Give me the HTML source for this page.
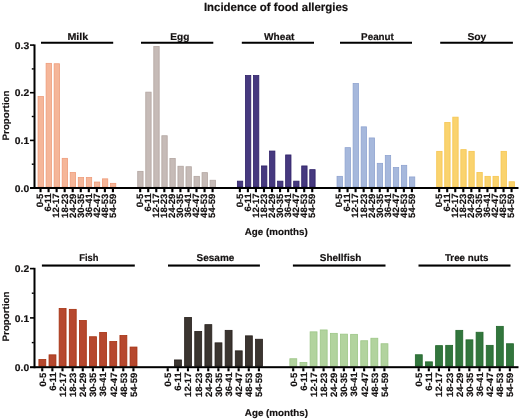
<!DOCTYPE html><html><head><meta charset="utf-8"><title>Incidence of food allergies</title><style>html,body{margin:0;padding:0;background:#fff;}svg{display:block;}text{font-family:'Liberation Sans', Arial, Helvetica, sans-serif;font-weight:bold;fill:#141111;stroke:#141111;stroke-width:0.18px;}</style></head><body>
<svg width="520" height="420" viewBox="0 0 520 420" text-rendering="geometricPrecision">
<rect width="520" height="420" fill="#fff"/>
<text transform="translate(203.908,10.5) scale(0.9788,1)" font-size="11.7">Incidence of food allergies</text>
<rect x="38.07" y="96.55" width="5.35" height="90.45" fill="#F5B699" stroke="#EE9C7A" stroke-width="0.8"/>
<rect x="46.11" y="63.35" width="5.35" height="123.65" fill="#F5B699" stroke="#EE9C7A" stroke-width="0.8"/>
<rect x="54.15" y="63.75" width="5.35" height="123.25" fill="#F5B699" stroke="#EE9C7A" stroke-width="0.8"/>
<rect x="62.19" y="158.35" width="5.35" height="28.65" fill="#F5B699" stroke="#EE9C7A" stroke-width="0.8"/>
<rect x="70.23" y="172.55" width="5.35" height="14.45" fill="#F5B699" stroke="#EE9C7A" stroke-width="0.8"/>
<rect x="78.28" y="177.55" width="5.35" height="9.45" fill="#F5B699" stroke="#EE9C7A" stroke-width="0.8"/>
<rect x="86.32" y="177.55" width="5.35" height="9.45" fill="#F5B699" stroke="#EE9C7A" stroke-width="0.8"/>
<rect x="94.36" y="182.05" width="5.35" height="4.95" fill="#F5B699" stroke="#EE9C7A" stroke-width="0.8"/>
<rect x="102.40" y="178.85" width="5.35" height="8.15" fill="#F5B699" stroke="#EE9C7A" stroke-width="0.8"/>
<rect x="110.44" y="183.35" width="5.35" height="3.65" fill="#F5B699" stroke="#EE9C7A" stroke-width="0.8"/>
<rect x="137.72" y="171.35" width="5.35" height="15.65" fill="#C6BBB7" stroke="#B2A5A0" stroke-width="0.8"/>
<rect x="145.77" y="92.15" width="5.35" height="94.85" fill="#C6BBB7" stroke="#B2A5A0" stroke-width="0.8"/>
<rect x="153.81" y="46.45" width="5.35" height="140.55" fill="#C6BBB7" stroke="#B2A5A0" stroke-width="0.8"/>
<rect x="161.85" y="135.75" width="5.35" height="51.25" fill="#C6BBB7" stroke="#B2A5A0" stroke-width="0.8"/>
<rect x="169.89" y="158.45" width="5.35" height="28.55" fill="#C6BBB7" stroke="#B2A5A0" stroke-width="0.8"/>
<rect x="177.94" y="166.25" width="5.35" height="20.75" fill="#C6BBB7" stroke="#B2A5A0" stroke-width="0.8"/>
<rect x="185.98" y="166.75" width="5.35" height="20.25" fill="#C6BBB7" stroke="#B2A5A0" stroke-width="0.8"/>
<rect x="194.02" y="176.35" width="5.35" height="10.65" fill="#C6BBB7" stroke="#B2A5A0" stroke-width="0.8"/>
<rect x="202.06" y="172.65" width="5.35" height="14.35" fill="#C6BBB7" stroke="#B2A5A0" stroke-width="0.8"/>
<rect x="210.10" y="180.25" width="5.35" height="6.75" fill="#C6BBB7" stroke="#B2A5A0" stroke-width="0.8"/>
<rect x="237.38" y="181.15" width="5.35" height="5.85" fill="#46397F" stroke="#2F2168" stroke-width="0.8"/>
<rect x="245.43" y="75.55" width="5.35" height="111.45" fill="#46397F" stroke="#2F2168" stroke-width="0.8"/>
<rect x="253.47" y="75.55" width="5.35" height="111.45" fill="#46397F" stroke="#2F2168" stroke-width="0.8"/>
<rect x="261.51" y="165.95" width="5.35" height="21.05" fill="#46397F" stroke="#2F2168" stroke-width="0.8"/>
<rect x="269.55" y="151.05" width="5.35" height="35.95" fill="#46397F" stroke="#2F2168" stroke-width="0.8"/>
<rect x="277.59" y="181.15" width="5.35" height="5.85" fill="#46397F" stroke="#2F2168" stroke-width="0.8"/>
<rect x="285.64" y="154.95" width="5.35" height="32.05" fill="#46397F" stroke="#2F2168" stroke-width="0.8"/>
<rect x="293.68" y="181.15" width="5.35" height="5.85" fill="#46397F" stroke="#2F2168" stroke-width="0.8"/>
<rect x="301.72" y="165.95" width="5.35" height="21.05" fill="#46397F" stroke="#2F2168" stroke-width="0.8"/>
<rect x="309.76" y="169.65" width="5.35" height="17.35" fill="#46397F" stroke="#2F2168" stroke-width="0.8"/>
<rect x="337.05" y="176.35" width="5.35" height="10.65" fill="#A6B8DC" stroke="#8FA3D0" stroke-width="0.8"/>
<rect x="345.09" y="147.65" width="5.35" height="39.35" fill="#A6B8DC" stroke="#8FA3D0" stroke-width="0.8"/>
<rect x="353.13" y="83.55" width="5.35" height="103.45" fill="#A6B8DC" stroke="#8FA3D0" stroke-width="0.8"/>
<rect x="361.17" y="126.85" width="5.35" height="60.15" fill="#A6B8DC" stroke="#8FA3D0" stroke-width="0.8"/>
<rect x="369.21" y="137.95" width="5.35" height="49.05" fill="#A6B8DC" stroke="#8FA3D0" stroke-width="0.8"/>
<rect x="377.25" y="163.35" width="5.35" height="23.65" fill="#A6B8DC" stroke="#8FA3D0" stroke-width="0.8"/>
<rect x="385.30" y="155.55" width="5.35" height="31.45" fill="#A6B8DC" stroke="#8FA3D0" stroke-width="0.8"/>
<rect x="393.34" y="167.55" width="5.35" height="19.45" fill="#A6B8DC" stroke="#8FA3D0" stroke-width="0.8"/>
<rect x="401.38" y="165.35" width="5.35" height="21.65" fill="#A6B8DC" stroke="#8FA3D0" stroke-width="0.8"/>
<rect x="409.42" y="176.95" width="5.35" height="10.05" fill="#A6B8DC" stroke="#8FA3D0" stroke-width="0.8"/>
<rect x="436.70" y="151.35" width="5.35" height="35.65" fill="#FAD36E" stroke="#F5C550" stroke-width="0.8"/>
<rect x="444.75" y="122.55" width="5.35" height="64.45" fill="#FAD36E" stroke="#F5C550" stroke-width="0.8"/>
<rect x="452.79" y="117.15" width="5.35" height="69.85" fill="#FAD36E" stroke="#F5C550" stroke-width="0.8"/>
<rect x="460.83" y="149.65" width="5.35" height="37.35" fill="#FAD36E" stroke="#F5C550" stroke-width="0.8"/>
<rect x="468.87" y="151.35" width="5.35" height="35.65" fill="#FAD36E" stroke="#F5C550" stroke-width="0.8"/>
<rect x="476.91" y="172.55" width="5.35" height="14.45" fill="#FAD36E" stroke="#F5C550" stroke-width="0.8"/>
<rect x="484.96" y="176.35" width="5.35" height="10.65" fill="#FAD36E" stroke="#F5C550" stroke-width="0.8"/>
<rect x="493.00" y="176.35" width="5.35" height="10.65" fill="#FAD36E" stroke="#F5C550" stroke-width="0.8"/>
<rect x="501.04" y="151.35" width="5.35" height="35.65" fill="#FAD36E" stroke="#F5C550" stroke-width="0.8"/>
<rect x="509.08" y="181.75" width="5.35" height="5.25" fill="#FAD36E" stroke="#F5C550" stroke-width="0.8"/>
<rect x="30" y="187.0" width="488.5" height="2.0" fill="#000"/>
<rect x="39.49" y="189" width="2.1" height="3.20" fill="#000"/>
<text transform="translate(43.40,193.61) rotate(-90) scale(1.034,1)" font-size="9.2" text-anchor="end">0-5</text>
<rect x="47.53" y="189" width="2.1" height="3.20" fill="#000"/>
<text transform="translate(51.44,193.12) rotate(-90) scale(1.034,1)" font-size="9.2" text-anchor="end">6-11</text>
<rect x="55.57" y="189" width="2.1" height="3.20" fill="#000"/>
<text transform="translate(59.48,193.48) rotate(-90) scale(1.034,1)" font-size="9.2" text-anchor="end">12-17</text>
<rect x="63.62" y="189" width="2.1" height="3.20" fill="#000"/>
<text transform="translate(67.53,193.59) rotate(-90) scale(1.034,1)" font-size="9.2" text-anchor="end">18-23</text>
<rect x="71.66" y="189" width="2.1" height="3.20" fill="#000"/>
<text transform="translate(75.57,193.59) rotate(-90) scale(1.034,1)" font-size="9.2" text-anchor="end">24-29</text>
<rect x="79.70" y="189" width="2.1" height="3.20" fill="#000"/>
<text transform="translate(83.61,193.61) rotate(-90) scale(1.034,1)" font-size="9.2" text-anchor="end">30-35</text>
<rect x="87.74" y="189" width="2.1" height="3.20" fill="#000"/>
<text transform="translate(91.65,193.12) rotate(-90) scale(1.034,1)" font-size="9.2" text-anchor="end">36-41</text>
<rect x="95.78" y="189" width="2.1" height="3.20" fill="#000"/>
<text transform="translate(99.69,193.48) rotate(-90) scale(1.034,1)" font-size="9.2" text-anchor="end">42-47</text>
<rect x="103.83" y="189" width="2.1" height="3.20" fill="#000"/>
<text transform="translate(107.74,193.59) rotate(-90) scale(1.034,1)" font-size="9.2" text-anchor="end">48-53</text>
<rect x="111.87" y="189" width="2.1" height="3.20" fill="#000"/>
<text transform="translate(115.78,193.59) rotate(-90) scale(1.034,1)" font-size="9.2" text-anchor="end">54-59</text>
<rect x="139.15" y="189" width="2.1" height="3.20" fill="#000"/>
<text transform="translate(143.06,193.61) rotate(-90) scale(1.034,1)" font-size="9.2" text-anchor="end">0-5</text>
<rect x="147.19" y="189" width="2.1" height="3.20" fill="#000"/>
<text transform="translate(151.10,193.12) rotate(-90) scale(1.034,1)" font-size="9.2" text-anchor="end">6-11</text>
<rect x="155.23" y="189" width="2.1" height="3.20" fill="#000"/>
<text transform="translate(159.14,193.48) rotate(-90) scale(1.034,1)" font-size="9.2" text-anchor="end">12-17</text>
<rect x="163.28" y="189" width="2.1" height="3.20" fill="#000"/>
<text transform="translate(167.19,193.59) rotate(-90) scale(1.034,1)" font-size="9.2" text-anchor="end">18-23</text>
<rect x="171.32" y="189" width="2.1" height="3.20" fill="#000"/>
<text transform="translate(175.23,193.59) rotate(-90) scale(1.034,1)" font-size="9.2" text-anchor="end">24-29</text>
<rect x="179.36" y="189" width="2.1" height="3.20" fill="#000"/>
<text transform="translate(183.27,193.61) rotate(-90) scale(1.034,1)" font-size="9.2" text-anchor="end">30-35</text>
<rect x="187.40" y="189" width="2.1" height="3.20" fill="#000"/>
<text transform="translate(191.31,193.12) rotate(-90) scale(1.034,1)" font-size="9.2" text-anchor="end">36-41</text>
<rect x="195.44" y="189" width="2.1" height="3.20" fill="#000"/>
<text transform="translate(199.35,193.48) rotate(-90) scale(1.034,1)" font-size="9.2" text-anchor="end">42-47</text>
<rect x="203.49" y="189" width="2.1" height="3.20" fill="#000"/>
<text transform="translate(207.40,193.59) rotate(-90) scale(1.034,1)" font-size="9.2" text-anchor="end">48-53</text>
<rect x="211.53" y="189" width="2.1" height="3.20" fill="#000"/>
<text transform="translate(215.44,193.59) rotate(-90) scale(1.034,1)" font-size="9.2" text-anchor="end">54-59</text>
<rect x="238.81" y="189" width="2.1" height="3.20" fill="#000"/>
<text transform="translate(242.72,193.61) rotate(-90) scale(1.034,1)" font-size="9.2" text-anchor="end">0-5</text>
<rect x="246.85" y="189" width="2.1" height="3.20" fill="#000"/>
<text transform="translate(250.76,193.12) rotate(-90) scale(1.034,1)" font-size="9.2" text-anchor="end">6-11</text>
<rect x="254.89" y="189" width="2.1" height="3.20" fill="#000"/>
<text transform="translate(258.80,193.48) rotate(-90) scale(1.034,1)" font-size="9.2" text-anchor="end">12-17</text>
<rect x="262.94" y="189" width="2.1" height="3.20" fill="#000"/>
<text transform="translate(266.85,193.59) rotate(-90) scale(1.034,1)" font-size="9.2" text-anchor="end">18-23</text>
<rect x="270.98" y="189" width="2.1" height="3.20" fill="#000"/>
<text transform="translate(274.89,193.59) rotate(-90) scale(1.034,1)" font-size="9.2" text-anchor="end">24-29</text>
<rect x="279.02" y="189" width="2.1" height="3.20" fill="#000"/>
<text transform="translate(282.93,193.61) rotate(-90) scale(1.034,1)" font-size="9.2" text-anchor="end">30-35</text>
<rect x="287.06" y="189" width="2.1" height="3.20" fill="#000"/>
<text transform="translate(290.97,193.12) rotate(-90) scale(1.034,1)" font-size="9.2" text-anchor="end">36-41</text>
<rect x="295.10" y="189" width="2.1" height="3.20" fill="#000"/>
<text transform="translate(299.01,193.48) rotate(-90) scale(1.034,1)" font-size="9.2" text-anchor="end">42-47</text>
<rect x="303.15" y="189" width="2.1" height="3.20" fill="#000"/>
<text transform="translate(307.06,193.59) rotate(-90) scale(1.034,1)" font-size="9.2" text-anchor="end">48-53</text>
<rect x="311.19" y="189" width="2.1" height="3.20" fill="#000"/>
<text transform="translate(315.10,193.59) rotate(-90) scale(1.034,1)" font-size="9.2" text-anchor="end">54-59</text>
<rect x="338.47" y="189" width="2.1" height="3.20" fill="#000"/>
<text transform="translate(342.38,193.61) rotate(-90) scale(1.034,1)" font-size="9.2" text-anchor="end">0-5</text>
<rect x="346.51" y="189" width="2.1" height="3.20" fill="#000"/>
<text transform="translate(350.42,193.12) rotate(-90) scale(1.034,1)" font-size="9.2" text-anchor="end">6-11</text>
<rect x="354.55" y="189" width="2.1" height="3.20" fill="#000"/>
<text transform="translate(358.46,193.48) rotate(-90) scale(1.034,1)" font-size="9.2" text-anchor="end">12-17</text>
<rect x="362.60" y="189" width="2.1" height="3.20" fill="#000"/>
<text transform="translate(366.51,193.59) rotate(-90) scale(1.034,1)" font-size="9.2" text-anchor="end">18-23</text>
<rect x="370.64" y="189" width="2.1" height="3.20" fill="#000"/>
<text transform="translate(374.55,193.59) rotate(-90) scale(1.034,1)" font-size="9.2" text-anchor="end">24-29</text>
<rect x="378.68" y="189" width="2.1" height="3.20" fill="#000"/>
<text transform="translate(382.59,193.61) rotate(-90) scale(1.034,1)" font-size="9.2" text-anchor="end">30-35</text>
<rect x="386.72" y="189" width="2.1" height="3.20" fill="#000"/>
<text transform="translate(390.63,193.12) rotate(-90) scale(1.034,1)" font-size="9.2" text-anchor="end">36-41</text>
<rect x="394.76" y="189" width="2.1" height="3.20" fill="#000"/>
<text transform="translate(398.67,193.48) rotate(-90) scale(1.034,1)" font-size="9.2" text-anchor="end">42-47</text>
<rect x="402.81" y="189" width="2.1" height="3.20" fill="#000"/>
<text transform="translate(406.72,193.59) rotate(-90) scale(1.034,1)" font-size="9.2" text-anchor="end">48-53</text>
<rect x="410.85" y="189" width="2.1" height="3.20" fill="#000"/>
<text transform="translate(414.76,193.59) rotate(-90) scale(1.034,1)" font-size="9.2" text-anchor="end">54-59</text>
<rect x="438.13" y="189" width="2.1" height="3.20" fill="#000"/>
<text transform="translate(442.04,193.61) rotate(-90) scale(1.034,1)" font-size="9.2" text-anchor="end">0-5</text>
<rect x="446.17" y="189" width="2.1" height="3.20" fill="#000"/>
<text transform="translate(450.08,193.12) rotate(-90) scale(1.034,1)" font-size="9.2" text-anchor="end">6-11</text>
<rect x="454.21" y="189" width="2.1" height="3.20" fill="#000"/>
<text transform="translate(458.12,193.48) rotate(-90) scale(1.034,1)" font-size="9.2" text-anchor="end">12-17</text>
<rect x="462.26" y="189" width="2.1" height="3.20" fill="#000"/>
<text transform="translate(466.17,193.59) rotate(-90) scale(1.034,1)" font-size="9.2" text-anchor="end">18-23</text>
<rect x="470.30" y="189" width="2.1" height="3.20" fill="#000"/>
<text transform="translate(474.21,193.59) rotate(-90) scale(1.034,1)" font-size="9.2" text-anchor="end">24-29</text>
<rect x="478.34" y="189" width="2.1" height="3.20" fill="#000"/>
<text transform="translate(482.25,193.61) rotate(-90) scale(1.034,1)" font-size="9.2" text-anchor="end">30-35</text>
<rect x="486.38" y="189" width="2.1" height="3.20" fill="#000"/>
<text transform="translate(490.29,193.12) rotate(-90) scale(1.034,1)" font-size="9.2" text-anchor="end">36-41</text>
<rect x="494.42" y="189" width="2.1" height="3.20" fill="#000"/>
<text transform="translate(498.33,193.48) rotate(-90) scale(1.034,1)" font-size="9.2" text-anchor="end">42-47</text>
<rect x="502.47" y="189" width="2.1" height="3.20" fill="#000"/>
<text transform="translate(506.38,193.59) rotate(-90) scale(1.034,1)" font-size="9.2" text-anchor="end">48-53</text>
<rect x="510.51" y="189" width="2.1" height="3.20" fill="#000"/>
<text transform="translate(514.42,193.59) rotate(-90) scale(1.034,1)" font-size="9.2" text-anchor="end">54-59</text>
<text transform="translate(67.425,39.5) scale(1.0858,1)" font-size="9.9">Milk</text>
<text transform="translate(170.345,39.7) scale(1.0204,1)" font-size="9.9">Egg</text>
<text transform="translate(264.013,39.7) scale(1.0252,1)" font-size="9.9">Wheat</text>
<text transform="translate(361.113,40.15) scale(0.9956,1)" font-size="9.9">Peanut</text>
<text transform="translate(467.422,39.8) scale(1.0456,1)" font-size="9.9">Soy</text>
<rect x="41" y="41.75" width="72.20" height="2.0" fill="#000"/>
<rect x="141" y="41.75" width="72.30" height="2.0" fill="#000"/>
<rect x="241.8" y="41.75" width="72.20" height="2.0" fill="#000"/>
<rect x="340" y="41.75" width="72.00" height="2.0" fill="#000"/>
<rect x="440.2" y="41.75" width="72.70" height="2.0" fill="#000"/>
<rect x="33.5" y="44.4" width="2" height="144.60" fill="#000"/>
<rect x="30" y="44.30" width="4" height="1.6" fill="#000"/>
<text transform="translate(14.87,48.70) scale(1.05,1)" font-size="9.8">0.3</text>
<rect x="30" y="91.90" width="4" height="1.6" fill="#000"/>
<text transform="translate(14.87,96.20) scale(1.05,1)" font-size="9.8">0.2</text>
<rect x="30" y="139.60" width="4" height="1.6" fill="#000"/>
<text transform="translate(14.87,143.90) scale(1.05,1)" font-size="9.8">0.1</text>
<text transform="translate(14.87,191.60) scale(1.05,1)" font-size="9.8">0.0</text>
<rect x="31.8" y="68.20" width="2" height="1.4" fill="#000"/>
<rect x="31.8" y="115.80" width="2" height="1.4" fill="#000"/>
<rect x="31.8" y="163.50" width="2" height="1.4" fill="#000"/>
<text transform="translate(8.7,140.43) rotate(-90) scale(1.0517,1)" font-size="9.3">Proportion</text>
<text transform="translate(244.817,235.2) scale(1.0081,1)" font-size="9.7">Age (months)</text>
<rect x="38.90" y="359.55" width="6.90" height="6.65" fill="#B6482E" stroke="#A5300F" stroke-width="0.8"/>
<rect x="49.03" y="354.85" width="6.90" height="11.35" fill="#B6482E" stroke="#A5300F" stroke-width="0.8"/>
<rect x="59.16" y="308.55" width="6.90" height="57.65" fill="#B6482E" stroke="#A5300F" stroke-width="0.8"/>
<rect x="69.29" y="309.35" width="6.90" height="56.85" fill="#B6482E" stroke="#A5300F" stroke-width="0.8"/>
<rect x="79.42" y="320.55" width="6.90" height="45.65" fill="#B6482E" stroke="#A5300F" stroke-width="0.8"/>
<rect x="89.55" y="336.75" width="6.90" height="29.45" fill="#B6482E" stroke="#A5300F" stroke-width="0.8"/>
<rect x="99.68" y="332.45" width="6.90" height="33.75" fill="#B6482E" stroke="#A5300F" stroke-width="0.8"/>
<rect x="109.81" y="341.55" width="6.90" height="24.65" fill="#B6482E" stroke="#A5300F" stroke-width="0.8"/>
<rect x="119.94" y="335.55" width="6.90" height="30.65" fill="#B6482E" stroke="#A5300F" stroke-width="0.8"/>
<rect x="130.07" y="347.05" width="6.90" height="19.15" fill="#B6482E" stroke="#A5300F" stroke-width="0.8"/>
<rect x="174.51" y="359.95" width="6.90" height="6.25" fill="#3B3530" stroke="#261F1B" stroke-width="0.8"/>
<rect x="184.64" y="317.45" width="6.90" height="48.75" fill="#3B3530" stroke="#261F1B" stroke-width="0.8"/>
<rect x="194.77" y="331.45" width="6.90" height="34.75" fill="#3B3530" stroke="#261F1B" stroke-width="0.8"/>
<rect x="204.90" y="324.65" width="6.90" height="41.55" fill="#3B3530" stroke="#261F1B" stroke-width="0.8"/>
<rect x="215.03" y="342.85" width="6.90" height="23.35" fill="#3B3530" stroke="#261F1B" stroke-width="0.8"/>
<rect x="225.16" y="330.35" width="6.90" height="35.85" fill="#3B3530" stroke="#261F1B" stroke-width="0.8"/>
<rect x="235.29" y="350.85" width="6.90" height="15.35" fill="#3B3530" stroke="#261F1B" stroke-width="0.8"/>
<rect x="245.42" y="335.85" width="6.90" height="30.35" fill="#3B3530" stroke="#261F1B" stroke-width="0.8"/>
<rect x="255.55" y="339.25" width="6.90" height="26.95" fill="#3B3530" stroke="#261F1B" stroke-width="0.8"/>
<rect x="289.86" y="358.75" width="6.90" height="7.45" fill="#B2D39E" stroke="#9CC686" stroke-width="0.8"/>
<rect x="299.99" y="362.55" width="6.90" height="3.65" fill="#B2D39E" stroke="#9CC686" stroke-width="0.8"/>
<rect x="310.12" y="331.85" width="6.90" height="34.35" fill="#B2D39E" stroke="#9CC686" stroke-width="0.8"/>
<rect x="320.25" y="329.95" width="6.90" height="36.25" fill="#B2D39E" stroke="#9CC686" stroke-width="0.8"/>
<rect x="330.38" y="333.35" width="6.90" height="32.85" fill="#B2D39E" stroke="#9CC686" stroke-width="0.8"/>
<rect x="340.51" y="334.15" width="6.90" height="32.05" fill="#B2D39E" stroke="#9CC686" stroke-width="0.8"/>
<rect x="350.64" y="334.35" width="6.90" height="31.85" fill="#B2D39E" stroke="#9CC686" stroke-width="0.8"/>
<rect x="360.77" y="340.75" width="6.90" height="25.45" fill="#B2D39E" stroke="#9CC686" stroke-width="0.8"/>
<rect x="370.90" y="338.25" width="6.90" height="27.95" fill="#B2D39E" stroke="#9CC686" stroke-width="0.8"/>
<rect x="381.03" y="343.75" width="6.90" height="22.45" fill="#B2D39E" stroke="#9CC686" stroke-width="0.8"/>
<rect x="415.34" y="354.75" width="6.90" height="11.45" fill="#32763D" stroke="#22672B" stroke-width="0.8"/>
<rect x="425.47" y="361.85" width="6.90" height="4.35" fill="#32763D" stroke="#22672B" stroke-width="0.8"/>
<rect x="435.60" y="345.65" width="6.90" height="20.55" fill="#32763D" stroke="#22672B" stroke-width="0.8"/>
<rect x="445.73" y="345.35" width="6.90" height="20.85" fill="#32763D" stroke="#22672B" stroke-width="0.8"/>
<rect x="455.86" y="330.35" width="6.90" height="35.85" fill="#32763D" stroke="#22672B" stroke-width="0.8"/>
<rect x="465.99" y="339.85" width="6.90" height="26.35" fill="#32763D" stroke="#22672B" stroke-width="0.8"/>
<rect x="476.12" y="332.25" width="6.90" height="33.95" fill="#32763D" stroke="#22672B" stroke-width="0.8"/>
<rect x="486.25" y="345.35" width="6.90" height="20.85" fill="#32763D" stroke="#22672B" stroke-width="0.8"/>
<rect x="496.38" y="326.35" width="6.90" height="39.85" fill="#32763D" stroke="#22672B" stroke-width="0.8"/>
<rect x="506.51" y="343.75" width="6.90" height="22.45" fill="#32763D" stroke="#22672B" stroke-width="0.8"/>
<rect x="30" y="366.2" width="488.5" height="2.0" fill="#000"/>
<rect x="41.20" y="368.2" width="2.1" height="3.10" fill="#000"/>
<text transform="translate(45.71,372.71) rotate(-90) scale(1.034,1)" font-size="9.2" text-anchor="end">0-5</text>
<rect x="51.33" y="368.2" width="2.1" height="3.10" fill="#000"/>
<text transform="translate(55.84,372.22) rotate(-90) scale(1.034,1)" font-size="9.2" text-anchor="end">6-11</text>
<rect x="61.46" y="368.2" width="2.1" height="3.10" fill="#000"/>
<text transform="translate(65.97,372.58) rotate(-90) scale(1.034,1)" font-size="9.2" text-anchor="end">12-17</text>
<rect x="71.59" y="368.2" width="2.1" height="3.10" fill="#000"/>
<text transform="translate(76.10,372.69) rotate(-90) scale(1.034,1)" font-size="9.2" text-anchor="end">18-23</text>
<rect x="81.72" y="368.2" width="2.1" height="3.10" fill="#000"/>
<text transform="translate(86.23,372.69) rotate(-90) scale(1.034,1)" font-size="9.2" text-anchor="end">24-29</text>
<rect x="91.85" y="368.2" width="2.1" height="3.10" fill="#000"/>
<text transform="translate(96.36,372.71) rotate(-90) scale(1.034,1)" font-size="9.2" text-anchor="end">30-35</text>
<rect x="101.98" y="368.2" width="2.1" height="3.10" fill="#000"/>
<text transform="translate(106.49,372.22) rotate(-90) scale(1.034,1)" font-size="9.2" text-anchor="end">36-41</text>
<rect x="112.11" y="368.2" width="2.1" height="3.10" fill="#000"/>
<text transform="translate(116.62,372.58) rotate(-90) scale(1.034,1)" font-size="9.2" text-anchor="end">42-47</text>
<rect x="122.24" y="368.2" width="2.1" height="3.10" fill="#000"/>
<text transform="translate(126.75,372.69) rotate(-90) scale(1.034,1)" font-size="9.2" text-anchor="end">48-53</text>
<rect x="132.37" y="368.2" width="2.1" height="3.10" fill="#000"/>
<text transform="translate(136.88,372.69) rotate(-90) scale(1.034,1)" font-size="9.2" text-anchor="end">54-59</text>
<rect x="166.68" y="368.2" width="2.1" height="3.10" fill="#000"/>
<text transform="translate(171.19,372.71) rotate(-90) scale(1.034,1)" font-size="9.2" text-anchor="end">0-5</text>
<rect x="176.81" y="368.2" width="2.1" height="3.10" fill="#000"/>
<text transform="translate(181.32,372.22) rotate(-90) scale(1.034,1)" font-size="9.2" text-anchor="end">6-11</text>
<rect x="186.94" y="368.2" width="2.1" height="3.10" fill="#000"/>
<text transform="translate(191.45,372.58) rotate(-90) scale(1.034,1)" font-size="9.2" text-anchor="end">12-17</text>
<rect x="197.07" y="368.2" width="2.1" height="3.10" fill="#000"/>
<text transform="translate(201.58,372.69) rotate(-90) scale(1.034,1)" font-size="9.2" text-anchor="end">18-23</text>
<rect x="207.20" y="368.2" width="2.1" height="3.10" fill="#000"/>
<text transform="translate(211.71,372.69) rotate(-90) scale(1.034,1)" font-size="9.2" text-anchor="end">24-29</text>
<rect x="217.33" y="368.2" width="2.1" height="3.10" fill="#000"/>
<text transform="translate(221.84,372.71) rotate(-90) scale(1.034,1)" font-size="9.2" text-anchor="end">30-35</text>
<rect x="227.46" y="368.2" width="2.1" height="3.10" fill="#000"/>
<text transform="translate(231.97,372.22) rotate(-90) scale(1.034,1)" font-size="9.2" text-anchor="end">36-41</text>
<rect x="237.59" y="368.2" width="2.1" height="3.10" fill="#000"/>
<text transform="translate(242.10,372.58) rotate(-90) scale(1.034,1)" font-size="9.2" text-anchor="end">42-47</text>
<rect x="247.72" y="368.2" width="2.1" height="3.10" fill="#000"/>
<text transform="translate(252.23,372.69) rotate(-90) scale(1.034,1)" font-size="9.2" text-anchor="end">48-53</text>
<rect x="257.85" y="368.2" width="2.1" height="3.10" fill="#000"/>
<text transform="translate(262.36,372.69) rotate(-90) scale(1.034,1)" font-size="9.2" text-anchor="end">54-59</text>
<rect x="292.16" y="368.2" width="2.1" height="3.10" fill="#000"/>
<text transform="translate(296.67,372.71) rotate(-90) scale(1.034,1)" font-size="9.2" text-anchor="end">0-5</text>
<rect x="302.29" y="368.2" width="2.1" height="3.10" fill="#000"/>
<text transform="translate(306.80,372.22) rotate(-90) scale(1.034,1)" font-size="9.2" text-anchor="end">6-11</text>
<rect x="312.42" y="368.2" width="2.1" height="3.10" fill="#000"/>
<text transform="translate(316.93,372.58) rotate(-90) scale(1.034,1)" font-size="9.2" text-anchor="end">12-17</text>
<rect x="322.55" y="368.2" width="2.1" height="3.10" fill="#000"/>
<text transform="translate(327.06,372.69) rotate(-90) scale(1.034,1)" font-size="9.2" text-anchor="end">18-23</text>
<rect x="332.68" y="368.2" width="2.1" height="3.10" fill="#000"/>
<text transform="translate(337.19,372.69) rotate(-90) scale(1.034,1)" font-size="9.2" text-anchor="end">24-29</text>
<rect x="342.81" y="368.2" width="2.1" height="3.10" fill="#000"/>
<text transform="translate(347.32,372.71) rotate(-90) scale(1.034,1)" font-size="9.2" text-anchor="end">30-35</text>
<rect x="352.94" y="368.2" width="2.1" height="3.10" fill="#000"/>
<text transform="translate(357.45,372.22) rotate(-90) scale(1.034,1)" font-size="9.2" text-anchor="end">36-41</text>
<rect x="363.07" y="368.2" width="2.1" height="3.10" fill="#000"/>
<text transform="translate(367.58,372.58) rotate(-90) scale(1.034,1)" font-size="9.2" text-anchor="end">42-47</text>
<rect x="373.20" y="368.2" width="2.1" height="3.10" fill="#000"/>
<text transform="translate(377.71,372.69) rotate(-90) scale(1.034,1)" font-size="9.2" text-anchor="end">48-53</text>
<rect x="383.33" y="368.2" width="2.1" height="3.10" fill="#000"/>
<text transform="translate(387.84,372.69) rotate(-90) scale(1.034,1)" font-size="9.2" text-anchor="end">54-59</text>
<rect x="417.64" y="368.2" width="2.1" height="3.10" fill="#000"/>
<text transform="translate(422.15,372.71) rotate(-90) scale(1.034,1)" font-size="9.2" text-anchor="end">0-5</text>
<rect x="427.77" y="368.2" width="2.1" height="3.10" fill="#000"/>
<text transform="translate(432.28,372.22) rotate(-90) scale(1.034,1)" font-size="9.2" text-anchor="end">6-11</text>
<rect x="437.90" y="368.2" width="2.1" height="3.10" fill="#000"/>
<text transform="translate(442.41,372.58) rotate(-90) scale(1.034,1)" font-size="9.2" text-anchor="end">12-17</text>
<rect x="448.03" y="368.2" width="2.1" height="3.10" fill="#000"/>
<text transform="translate(452.54,372.69) rotate(-90) scale(1.034,1)" font-size="9.2" text-anchor="end">18-23</text>
<rect x="458.16" y="368.2" width="2.1" height="3.10" fill="#000"/>
<text transform="translate(462.67,372.69) rotate(-90) scale(1.034,1)" font-size="9.2" text-anchor="end">24-29</text>
<rect x="468.29" y="368.2" width="2.1" height="3.10" fill="#000"/>
<text transform="translate(472.80,372.71) rotate(-90) scale(1.034,1)" font-size="9.2" text-anchor="end">30-35</text>
<rect x="478.42" y="368.2" width="2.1" height="3.10" fill="#000"/>
<text transform="translate(482.93,372.22) rotate(-90) scale(1.034,1)" font-size="9.2" text-anchor="end">36-41</text>
<rect x="488.55" y="368.2" width="2.1" height="3.10" fill="#000"/>
<text transform="translate(493.06,372.58) rotate(-90) scale(1.034,1)" font-size="9.2" text-anchor="end">42-47</text>
<rect x="498.68" y="368.2" width="2.1" height="3.10" fill="#000"/>
<text transform="translate(503.19,372.69) rotate(-90) scale(1.034,1)" font-size="9.2" text-anchor="end">48-53</text>
<rect x="508.81" y="368.2" width="2.1" height="3.10" fill="#000"/>
<text transform="translate(513.32,372.69) rotate(-90) scale(1.034,1)" font-size="9.2" text-anchor="end">54-59</text>
<text transform="translate(79.299,260.75) scale(0.9474,1)" font-size="9.9">Fish</text>
<text transform="translate(196.583,261.0) scale(1.0119,1)" font-size="9.9">Sesame</text>
<text transform="translate(319.784,260.6) scale(1.0091,1)" font-size="9.9">Shellfish</text>
<text transform="translate(444.933,261.3) scale(0.9885,1)" font-size="9.9">Tree nuts</text>
<rect x="41.9" y="264.5" width="92.90" height="2.1" fill="#000"/>
<rect x="168" y="264.5" width="91.90" height="2.1" fill="#000"/>
<rect x="292.9" y="264.5" width="92.60" height="2.1" fill="#000"/>
<rect x="418.5" y="264.5" width="92.00" height="2.1" fill="#000"/>
<rect x="33.5" y="267.8" width="2" height="100.40" fill="#000"/>
<rect x="30" y="267.80" width="4" height="1.6" fill="#000"/>
<text transform="translate(14.87,272.10) scale(1.05,1)" font-size="9.8">0.2</text>
<rect x="30" y="317.10" width="4" height="1.6" fill="#000"/>
<text transform="translate(14.87,321.60) scale(1.05,1)" font-size="9.8">0.1</text>
<text transform="translate(14.87,370.80) scale(1.05,1)" font-size="9.8">0.0</text>
<rect x="31.8" y="292.50" width="2" height="1.4" fill="#000"/>
<rect x="31.8" y="341.90" width="2" height="1.4" fill="#000"/>
<text transform="translate(8.7,341.43) rotate(-90) scale(1.0517,1)" font-size="9.3">Proportion</text>
<text transform="translate(244.816,415.5) scale(1.0114,1)" font-size="9.7">Age (months)</text>
</svg></body></html>
